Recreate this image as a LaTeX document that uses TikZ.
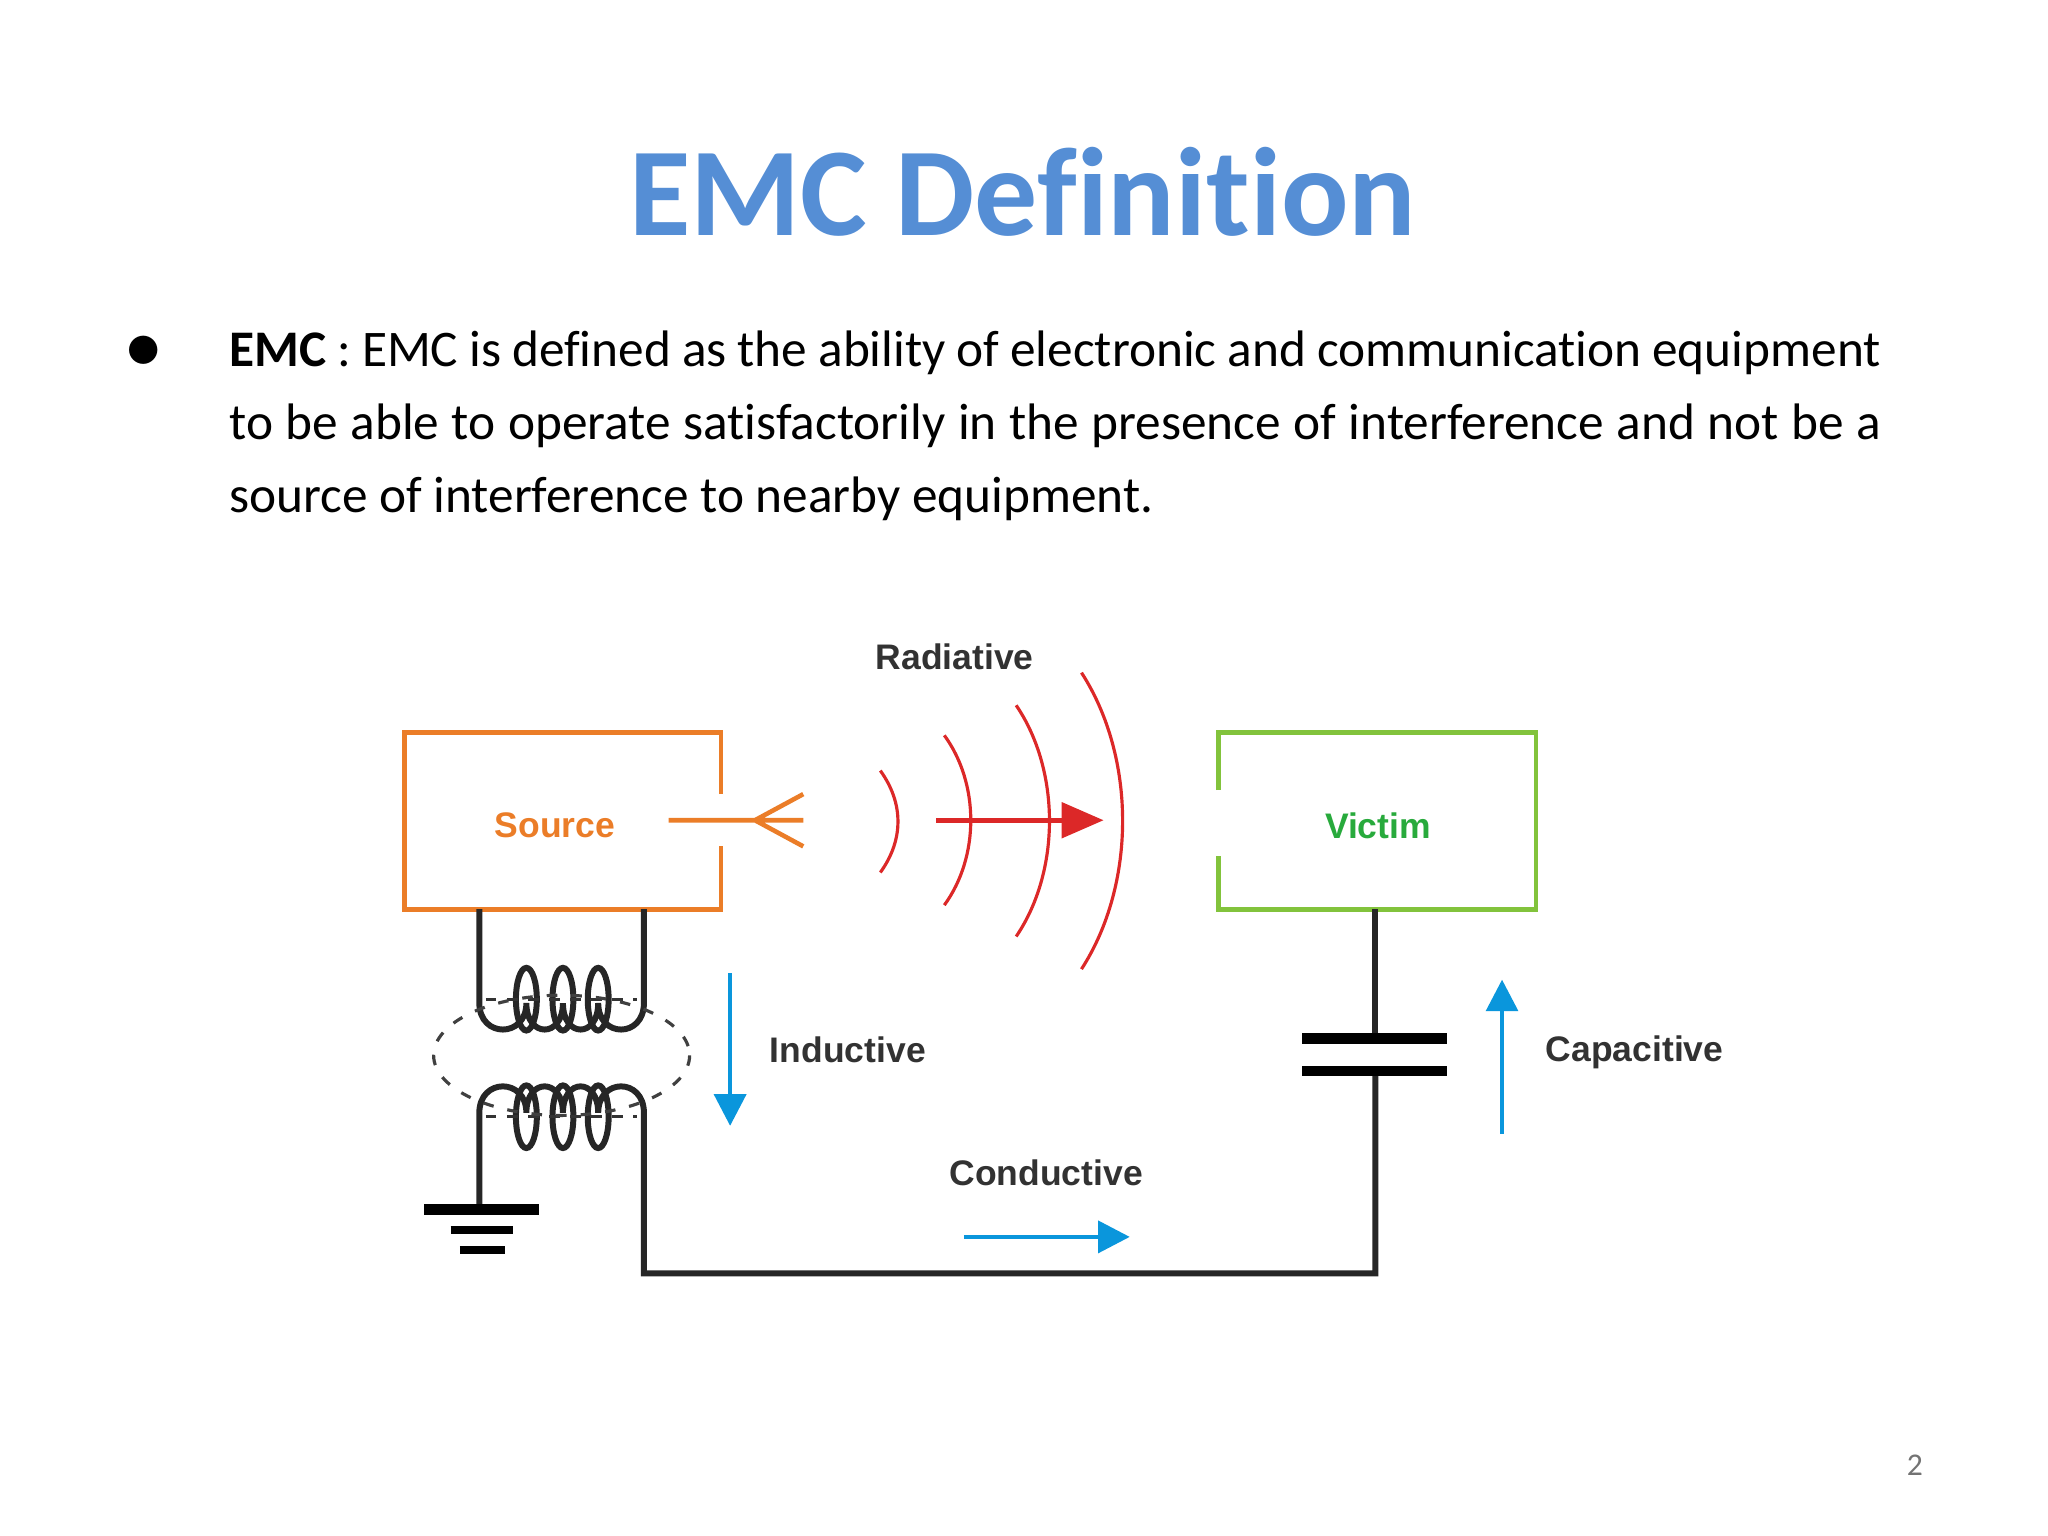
\documentclass[tikz,border=0pt]{standalone}
\usepackage{fontspec}
\setmainfont[Ligatures={NoCommon}]{Carlito}
\newfontfamily\lab{Liberation Sans}
\usetikzlibrary{arrows.meta}
\definecolor{ttl}{RGB}{85,142,213}
\definecolor{org}{RGB}{235,125,40}
\definecolor{grn}{RGB}{130,195,60}
\definecolor{gtx}{RGB}{40,170,60}
\definecolor{rd}{RGB}{220,40,40}
\definecolor{bl}{RGB}{10,150,220}
\definecolor{lbl}{RGB}{50,50,50}
\tikzset{
 lab/.style={font=\lab\bfseries\fontsize{10.1}{12}\selectfont, text=lbl},
 wire/.style={line width=1.7pt, black!85},
 barr/.style={bl, line width=1.3pt, -{Triangle[length=9pt,width=9pt]}},
}
\begin{document}
\begin{tikzpicture}[x=0.013061cm,y=-0.013061cm]
\useasboundingbox (0,0) rectangle (1568,1176);
\node[text=ttl, font=\bfseries\fontsize{35.8}{42}\selectfont] (title) at (783,147) {EMC Definition};
\node[font=\fontsize{20}{20}\selectfont] (bul) at (110,270) {$\bullet$};
\node[anchor=north west, text width=470pt, align=justify, inner sep=0pt, font=\fontsize{14.6}{20.7}\selectfont] (body) at (175,253)
 {\hyphenpenalty=10000 \textbf{EMC} : EMC is defined as the ability of electronic and communication equipment\linebreak to be able to operate satisfactorily in the presence of interference and not be a\linebreak source of interference to nearby equipment.};
\node[text=black!55, font=\fontsize{9}{10}\selectfont] (pg) at (1466,1122) {2};
% source box
\draw[org, line width=1.4pt] (552,608) -- (552,561) -- (310,561) -- (310,696) -- (552,696) -- (552,648);
\node[lab, text=org] (src) at (425,632) {Source};
\draw[org, line width=1.3pt] (512,628) -- (615,628) (615,608) -- (578,628) -- (615,648);
% victim box
\draw[grn, line width=1.4pt] (933,605) -- (933,561) -- (1176,561) -- (1176,696) -- (933,696) -- (933,655);
\node[lab, text=gtx] (vic) at (1055,632) {Victim};
% waves
\begin{scope}[rd, line width=0.9pt]
\draw (674,590) .. controls (692,615) and (692,643) .. (674,668);
\draw (723,563) .. controls (750,600) and (750,656) .. (723,693);
\draw (778,540) .. controls (812,590) and (812,667) .. (778,717);
\draw (828,515) .. controls (870,580) and (870,677) .. (828,742);
\end{scope}
\draw[rd, line width=1.5pt, -{Triangle[length=12pt,width=10pt]}] (717,628) -- (845,628);
\node[lab] (rad) at (731,503) {Radiative};
% coils
\draw[wire] (367,696) -- (367,768) .. controls (367,795) and (403,795) .. (403,768)
  .. controls (403,795) and (431,795) .. (431,768)
  .. controls (431,795) and (458,795) .. (458,768)
  .. controls (458,795) and (493,795) .. (493,768) -- (493,696);
\foreach \x in {403,431,458} \draw[wire] (\x,765) ellipse (8 and 24);
\draw[wire] (367,925) -- (367,852) .. controls (367,825) and (403,825) .. (403,852)
  .. controls (403,825) and (431,825) .. (431,852)
  .. controls (431,825) and (458,825) .. (458,852)
  .. controls (458,825) and (493,825) .. (493,852) -- (493,975) -- (1053,975) -- (1053,820);
\foreach \x in {403,431,458} \draw[wire] (\x,855) ellipse (8 and 24);
\draw[dashed, black!80, line width=0.9pt] (372,765) -- (488,765) (372,855) -- (488,855);
\draw[black!75, line width=0.9pt, dash pattern=on 3pt off 4pt] (430,808) ellipse (98 and 46);
% ground
\draw[line width=3pt] (325,926) -- (413,926);
\draw[line width=2.3pt] (345,942) -- (393,942) (352,957) -- (387,957);
% capacitor
\draw[wire] (1053,696) -- (1053,795);
\draw[line width=3pt] (997,795) -- (1108,795) (997,820) -- (1108,820);
% arrows
\draw[barr] (559,745) -- (559,862);
\node[lab, anchor=west] (ind) at (580,804) {Inductive};
\draw[barr] (1150,868) -- (1150,750);
\node[lab, anchor=west] (cap) at (1174,806) {Capacitive};
\draw[barr] (738,947) -- (865,947);
\node[lab] (con) at (801,898) {Conductive};
\end{tikzpicture}
\end{document}
